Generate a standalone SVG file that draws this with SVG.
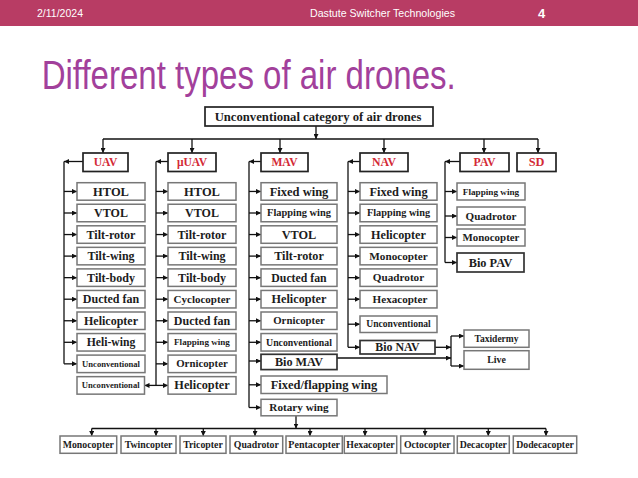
<svg xmlns="http://www.w3.org/2000/svg" width="638" height="478" viewBox="0 0 638 478">
<defs>
<marker id="a" viewBox="0 0 8 8" refX="8" refY="4" markerWidth="5" markerHeight="5" orient="auto" markerUnits="userSpaceOnUse"><path d="M0,0 L8,4 L0,8z" fill="#111"/></marker>
<style>
.b{fill:#fff;stroke:#777;stroke-width:1.5}
.c{fill:#fff;stroke:#222;stroke-width:1.7}
.k{fill:#fff;stroke:#333;stroke-width:1.7}
text{font-family:"Liberation Serif","Times New Roman",serif;font-weight:bold;fill:#1c1c1c;text-anchor:middle}
.r{fill:#d32a36}
.l{fill:none;stroke:#111;stroke-width:1.3}
.m{marker-end:url(#a)}
.h{font-family:"Liberation Sans",Arial,sans-serif;font-weight:normal;fill:#fff;text-anchor:start}
</style>
</defs>
<rect width="638" height="478" fill="#fff"/>
<g id="header">
<rect x="0" y="0" width="638" height="26" fill="#b83c64"/>
<text class="h" x="37" y="17" font-size="11" textLength="46" lengthAdjust="spacingAndGlyphs">2/11/2024</text>
<text class="h" x="310" y="17" font-size="11" textLength="145" lengthAdjust="spacingAndGlyphs">Dastute Switcher Technologies</text>
<text class="h" x="538" y="18" font-size="13" font-weight="bold" style="font-weight:bold">4</text>
</g>
<text x="41.7" y="89.3" font-size="40" textLength="414" lengthAdjust="spacingAndGlyphs" style="font-family:'Liberation Sans',Arial,sans-serif;font-weight:normal;fill:#a2409b;text-anchor:start">Different types of air drones.</text>

<g id="connectors">
<path class="l m" d="M316,126 V139"/>
<path class="l" d="M103,139 H538"/>
<path class="l m" d="M103,139 V153"/>
<path class="l m" d="M192,139 V153"/>
<path class="l m" d="M280,139 V153"/>
<path class="l m" d="M384,139 V153"/>
<path class="l m" d="M484,139 V153"/>
<path class="l m" d="M538,139 V153"/>
<!-- UAV spine -->
<path class="l m" d="M83,161.5 H64"/>
<path class="l" d="M64,161.5 V363.85"/>
<path class="l m" d="M64,191.45 H77"/>
<path class="l m" d="M64,213 H77"/>
<path class="l m" d="M64,234.55 H77"/>
<path class="l m" d="M64,256.1 H77"/>
<path class="l m" d="M64,277.65 H77"/>
<path class="l m" d="M64,299.2 H77"/>
<path class="l m" d="M64,320.75 H77"/>
<path class="l m" d="M64,342.3 H77"/>
<path class="l m" d="M64,363.85 H77"/>
<!-- muUAV spine -->
<path class="l m" d="M168,161.5 H156"/>
<path class="l" d="M156,161.5 V385.4"/>
<path class="l m" d="M156,191.45 H168"/>
<path class="l m" d="M156,213 H168"/>
<path class="l m" d="M156,234.55 H168"/>
<path class="l m" d="M156,256.1 H168"/>
<path class="l m" d="M156,277.65 H168"/>
<path class="l m" d="M156,299.2 H168"/>
<path class="l m" d="M156,320.75 H168"/>
<path class="l m" d="M156,342.3 H168"/>
<path class="l m" d="M156,363.85 H168"/>
<path class="l m" d="M156,385.4 H168"/>
<path class="l m" d="M156,385.4 H144.5"/>
<!-- MAV spine -->
<path class="l m" d="M261,161.5 H249"/>
<path class="l" d="M249,161.5 V407.5"/>
<path class="l m" d="M249,191.45 H261"/>
<path class="l m" d="M249,213 H261"/>
<path class="l m" d="M249,234.55 H261"/>
<path class="l m" d="M249,256.1 H261"/>
<path class="l m" d="M249,277.65 H261"/>
<path class="l m" d="M249,299.2 H261"/>
<path class="l m" d="M249,320.75 H261"/>
<path class="l m" d="M249,342.3 H261"/>
<path class="l m" d="M249,361 H261"/>
<path class="l m" d="M249,384.8 H261"/>
<path class="l m" d="M249,407.5 H261"/>
<!-- NAV spine -->
<path class="l m" d="M360,161.5 H348"/>
<path class="l" d="M348,161.5 V347.3"/>
<path class="l m" d="M348,191.45 H360"/>
<path class="l m" d="M348,213 H360"/>
<path class="l m" d="M348,234.55 H360"/>
<path class="l m" d="M348,256.1 H360"/>
<path class="l m" d="M348,277.65 H360"/>
<path class="l m" d="M348,299.2 H360"/>
<path class="l m" d="M348,324.2 H360"/>
<path class="l m" d="M348,347.3 H360"/>
<!-- PAV spine -->
<path class="l m" d="M460,161.5 H445"/>
<path class="l" d="M445,161.5 V262.5"/>
<path class="l m" d="M445,191.5 H457"/>
<path class="l m" d="M445,216 H457"/>
<path class="l m" d="M445,237.5 H457"/>
<path class="l m" d="M445,262.5 H457"/>
<!-- Bio connectors -->
<path class="l m" d="M435,347.3 H451"/>
<path class="l m" d="M337,358 H451"/>
<path class="l" d="M451,336 V366"/>
<path class="l m" d="M451,336 H464"/>
<path class="l m" d="M451,366 H464"/>
<!-- Rotary wing to bottom row -->
<path class="l m" d="M296,415.8 V428.5"/>
<path class="l" d="M91.7,428.5 H546"/>
<path class="l m" d="M91.7,428.5 V436"/>
<path class="l m" d="M156,428.5 V436"/>
<path class="l m" d="M203.3,428.5 V436"/>
<path class="l m" d="M255,428.5 V436"/>
<path class="l m" d="M310,428.5 V436"/>
<path class="l m" d="M365,428.5 V436"/>
<path class="l m" d="M425,428.5 V436"/>
<path class="l m" d="M488.3,428.5 V436"/>
<path class="l m" d="M546,428.5 V436"/>
</g>

<g id="root"><rect class="c" x="205" y="107" width="228" height="19"/><text x="318" y="120.7" font-size="12.7">Unconventional category of air drones</text></g>

<g id="cat-uav"><rect class="c" x="83" y="153" width="45" height="18.5"/><text class="r" x="105.5" y="166.1" font-size="11.6">UAV</text></g>
<g id="cat-muav"><rect class="c" x="168" y="153" width="48" height="18.5"/><text class="r" x="192" y="166.1" font-size="11.6">μUAV</text></g>
<g id="cat-mav"><rect class="c" x="261" y="153" width="47" height="18.5"/><text class="r" x="284.5" y="166.1" font-size="11.6">MAV</text></g>
<g id="cat-nav"><rect class="c" x="360" y="153" width="48" height="18.5"/><text class="r" x="384" y="166.1" font-size="11.8">NAV</text></g>
<g id="cat-pav"><rect class="c" x="460" y="153" width="49" height="18.5"/><text class="r" x="484.5" y="166.1" font-size="11.8">PAV</text></g>
<g id="cat-sd"><rect class="c" x="517" y="153" width="39" height="18.5"/><text class="r" x="536.5" y="166.1" font-size="12.3">SD</text></g>

<g id="uav-htol"><rect class="b" x="77" y="182.7" width="68" height="17.5"/><text x="111" y="195.6" font-size="12.5">HTOL</text></g>
<g id="uav-vtol"><rect class="b" x="77" y="204.25" width="68" height="17.5"/><text x="111" y="217" font-size="12">VTOL</text></g>
<g id="uav-tiltrotor"><rect class="b" x="77" y="225.8" width="68" height="17.5"/><text x="111" y="238.5" font-size="12">Tilt-rotor</text></g>
<g id="uav-tiltwing"><rect class="b" x="77" y="247.35" width="68" height="17.5"/><text x="111" y="260.1" font-size="12">Tilt-wing</text></g>
<g id="uav-tiltbody"><rect class="b" x="77" y="268.9" width="68" height="17.5"/><text x="111" y="281.6" font-size="12">Tilt-body</text></g>
<g id="uav-ducted"><rect class="b" x="77" y="290.45" width="68" height="17.5"/><text x="111" y="303.2" font-size="12">Ducted fan</text></g>
<g id="uav-heli"><rect class="b" x="77" y="312" width="68" height="17.5"/><text x="111" y="324.7" font-size="12">Helicopter</text></g>
<g id="uav-heliwing"><rect class="b" x="77" y="333.55" width="68" height="17.5"/><text x="111" y="346.2" font-size="11.7">Heli-wing</text></g>
<g id="uav-uncon"><rect class="b" x="77" y="355.1" width="68" height="17.5"/><text x="111" y="366.7" font-size="8.6">Unconventional</text></g>
<g id="uncon2"><rect class="b" x="77" y="376.65" width="67.5" height="17.5"/><text x="110.7" y="388.3" font-size="8.6">Unconventional</text></g>

<g id="mu-htol"><rect class="b" x="168" y="182.7" width="68" height="17.5"/><text x="202" y="195.6" font-size="12.5">HTOL</text></g>
<g id="mu-vtol"><rect class="b" x="168" y="204.25" width="68" height="17.5"/><text x="202" y="217" font-size="12">VTOL</text></g>
<g id="mu-tiltrotor"><rect class="b" x="168" y="225.8" width="68" height="17.5"/><text x="202" y="238.5" font-size="12">Tilt-rotor</text></g>
<g id="mu-tiltwing"><rect class="b" x="168" y="247.35" width="68" height="17.5"/><text x="202" y="260.1" font-size="12">Tilt-wing</text></g>
<g id="mu-tiltbody"><rect class="b" x="168" y="268.9" width="68" height="17.5"/><text x="202" y="281.6" font-size="12">Tilt-body</text></g>
<g id="mu-cyclo"><rect class="b" x="168" y="290.45" width="68" height="17.5"/><text x="202" y="302.9" font-size="11">Cyclocopter</text></g>
<g id="mu-ducted"><rect class="b" x="168" y="312" width="68" height="17.5"/><text x="202" y="324.7" font-size="12">Ducted fan</text></g>
<g id="mu-flap"><rect class="b" x="168" y="333.55" width="68" height="17.5"/><text x="202" y="345.3" font-size="9.1">Flapping wing</text></g>
<g id="mu-orni"><rect class="b" x="168" y="355.1" width="68" height="17.5"/><text x="202" y="367.4" font-size="10.8">Ornicopter</text></g>
<g id="mu-heli"><rect class="b" x="168" y="376.65" width="68" height="17.5"/><text x="202" y="389.4" font-size="12.3">Helicopter</text></g>

<g id="mav-fixed"><rect class="b" x="261" y="182.7" width="76" height="17.5"/><text x="299" y="195.6" font-size="12.5">Fixed wing</text></g>
<g id="mav-flap"><rect class="b" x="261" y="204.25" width="76" height="17.5"/><text x="299" y="216.4" font-size="10.4">Flapping wing</text></g>
<g id="mav-vtol"><rect class="b" x="261" y="225.8" width="76" height="17.5"/><text x="299" y="238.6" font-size="12.3">VTOL</text></g>
<g id="mav-tiltrotor"><rect class="b" x="261" y="247.35" width="76" height="17.5"/><text x="299" y="260.1" font-size="12.2">Tilt-rotor</text></g>
<g id="mav-ducted"><rect class="b" x="261" y="268.9" width="76" height="17.5"/><text x="299" y="281.6" font-size="11.8">Ducted fan</text></g>
<g id="mav-heli"><rect class="b" x="261" y="290.45" width="76" height="17.5"/><text x="299" y="303.2" font-size="12.2">Helicopter</text></g>
<g id="mav-orni"><rect class="b" x="261" y="312" width="76" height="17.5"/><text x="299" y="324.3" font-size="10.8">Ornicopter</text></g>
<g id="mav-uncon"><rect class="b" x="261" y="333.55" width="76" height="17.5"/><text x="299" y="345.5" font-size="9.8">Unconventional</text></g>
<g id="mav-bio"><rect class="k" x="261" y="354.3" width="76" height="15.3"/><text x="299" y="366" font-size="12.2">Bio MAV</text></g>
<g id="mav-fixflap"><rect class="b" x="261" y="376" width="126" height="17.5"/><text x="324" y="388.9" font-size="12.5">Fixed/flapping wing</text></g>
<g id="mav-rotary"><rect class="b" x="261" y="399.3" width="76" height="16.5"/><text x="299" y="411.4" font-size="11.2">Rotary wing</text></g>

<g id="nav-fixed"><rect class="b" x="360" y="182.7" width="77" height="17.5"/><text x="398.5" y="195.6" font-size="12.4">Fixed wing</text></g>
<g id="nav-flap"><rect class="b" x="360" y="204.25" width="77" height="17.5"/><text x="398.5" y="216.4" font-size="10.3">Flapping wing</text></g>
<g id="nav-heli"><rect class="b" x="360" y="225.8" width="77" height="17.5"/><text x="398.5" y="238.6" font-size="12.2">Helicopter</text></g>
<g id="nav-mono"><rect class="b" x="360" y="247.35" width="77" height="17.5"/><text x="398.5" y="259.8" font-size="11.2">Monocopter</text></g>
<g id="nav-quad"><rect class="b" x="360" y="268.9" width="77" height="17.5"/><text x="398.5" y="281.3" font-size="11.2">Quadrotor</text></g>
<g id="nav-hexa"><rect class="b" x="360" y="290.45" width="77" height="17.5"/><text x="400" y="302.9" font-size="11.1">Hexacopter</text></g>
<g id="nav-uncon"><rect class="b" x="360" y="316" width="77" height="16.5"/><text x="398.5" y="327.4" font-size="9.6">Unconventional</text></g>
<g id="nav-bio"><rect class="k" x="360" y="340.5" width="75" height="13.5"/><text x="397.5" y="351.2" font-size="11.9">Bio NAV</text></g>

<g id="pav-flap"><rect class="b" x="457" y="183" width="68" height="17"/><text x="491" y="194.5" font-size="9.2">Flapping wing</text></g>
<g id="pav-quad"><rect class="b" x="457" y="207" width="68" height="18"/><text x="491" y="219.7" font-size="11.1">Quadrotor</text></g>
<g id="pav-mono"><rect class="b" x="457" y="229" width="68" height="17"/><text x="491" y="241.1" font-size="10.9">Monocopter</text></g>
<g id="pav-bio"><rect class="k" x="457" y="253" width="67" height="19"/><text x="490.5" y="266.5" font-size="12.3">Bio PAV</text></g>

<g id="taxidermy"><rect class="b" x="464" y="330" width="65" height="17.3"/><text x="496.5" y="341.8" font-size="9.5">Taxidermy</text></g>
<g id="live"><rect class="b" x="464" y="350.7" width="65" height="18.6"/><text x="496.5" y="363.3" font-size="9.9">Live</text></g>

<g id="b-mono"><rect class="b" x="60" y="436" width="56.7" height="17.3"/><text x="88.3" y="447.9" font-size="9.8">Monocopter</text></g>
<g id="b-twin"><rect class="b" x="121" y="436" width="55" height="17.3"/><text x="148.5" y="447.9" font-size="9.8">Twincopter</text></g>
<g id="b-tri"><rect class="b" x="180" y="436" width="46" height="17.3"/><text x="203" y="447.9" font-size="9.8">Tricopter</text></g>
<g id="b-quad"><rect class="b" x="230" y="436" width="52.7" height="17.3"/><text x="256.3" y="447.9" font-size="9.8">Quadrotor</text></g>
<g id="b-penta"><rect class="b" x="286" y="436" width="56.3" height="17.3"/><text x="314.2" y="447.9" font-size="10">Pentacopter</text></g>
<g id="b-hexa"><rect class="b" x="344.3" y="436" width="52.4" height="17.3"/><text x="370.5" y="447.9" font-size="9.8">Hexacopter</text></g>
<g id="b-octo"><rect class="b" x="400.7" y="436" width="53.3" height="17.3"/><text x="427.3" y="447.9" font-size="9.8">Octocopter</text></g>
<g id="b-deca"><rect class="b" x="457.3" y="436" width="52" height="17.3"/><text x="483.3" y="447.9" font-size="9.8">Decacopter</text></g>
<g id="b-dodeca"><rect class="b" x="513.3" y="436" width="63.4" height="17.3"/><text x="545" y="447.9" font-size="9.8">Dodecacopter</text></g>
</svg>
